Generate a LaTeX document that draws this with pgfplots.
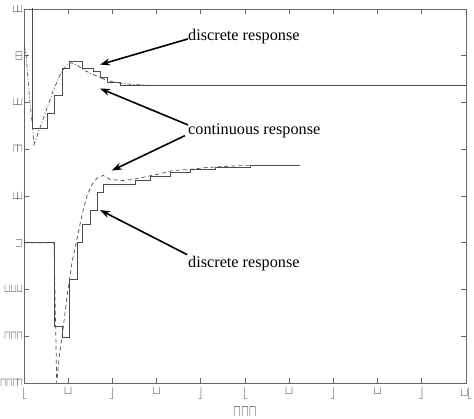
\documentclass[border=0pt]{standalone}
\usepackage{amssymb}
\usepackage{fontspec}
\setmainfont{Liberation Serif}
\usepackage{pgfplots}
\pgfplotsset{compat=1.18}
\usetikzlibrary{arrows.meta}
\newcommand{\tl}[1]{\scalebox{1}[1.35]{$#1$}}

\begin{document}
\begin{tikzpicture}
\begin{axis}[
    scale only axis,
    width=442bp, height=374bp,
    xmin=0, xmax=10, ymin=-3, ymax=5,
    axis line style={black!60, line width=0.9bp},
    tick align=inside, major tick length=5bp,
    tick style={black!60, line width=0.8bp},
    xtick={0,...,10}, ytick={-3,...,5},
    xticklabels={$\lfloor$,$\sqcup$,$\rfloor$,$\sqcup$,$\rfloor$,$\lfloor$,$\sqcup$,$\rfloor$,$\sqcup$,$\rfloor$,$\sqcup\!\lfloor$},
    yticklabels={\tl{\sqcap\mkern-4mu\sqcap\mkern-4mu\sqcap\mkern-4mu\sqcap},\tl{\sqcap\mkern-4mu\sqcap\mkern-4mu\sqcap},\tl{\sqcup\mkern-4mu\sqcup\mkern-4mu\sqcup},\tl{\sqsupset},\tl{\sqcup\mkern-4mu\sqcup},\tl{\sqcap\mkern-4mu\sqcap},\tl{\sqcup\mkern-4mu\sqcup},\tl{\boxminus},\tl{\sqcup\mkern-4mu\sqcup}},
    x tick label style={font=\fontsize{12}{12}\selectfont, black!75, yshift=-1bp},
    y tick label style={font=\fontsize{9.5}{10}\selectfont, black!75, inner sep=1bp},
    xlabel={\scalebox{1}[1.5]{$\sqcap\!\sqcap\!\sqcap$}},
    every axis x label/.style={at={(rel axis cs:0.5,0)}, anchor=north, yshift=-21bp, font=\fontsize{11}{11}\selectfont, black!75},
    every axis plot/.append style={black!70, line width=0.7bp},
]
% upper loop, discrete response
\addplot[const plot] coordinates {
  (0,5.3) (0.18,2.45) (0.52,2.77) (0.68,3.15) (0.86,3.72) (1.02,3.89)
  (1.33,3.72) (1.56,3.66) (1.72,3.53) (1.88,3.43) (2.17,3.365) (10,3.365)
};
% upper loop, continuous response
\addplot[dash pattern=on 4bp off 2bp on 1bp off 2bp] coordinates {
  (0,4.21) (0.045,4.04) (0.09,3.51) (0.136,2.98) (0.18,2.60) (0.226,2.095)
  (0.36,2.455) (0.52,2.88) (0.656,3.24) (0.81,3.58) (0.95,3.79) (1.06,3.85)
  (1.18,3.81) (1.38,3.68) (1.61,3.58) (1.83,3.49) (2.06,3.43) (2.40,3.39)
  (2.85,3.365) (3.53,3.365) (10,3.365)
};
% lower loop, discrete response
\addplot[const plot] coordinates {
  (0,0) (0.68,-1.78) (0.86,-2.03) (1.02,-0.78) (1.20,0) (1.33,0.40)
  (1.49,0.70) (1.65,1.08) (1.79,1.25) (2.51,1.33) (2.85,1.42) (3.30,1.50)
  (3.76,1.57) (4.32,1.61) (5.11,1.65) (6.24,1.65)
};
% lower loop, continuous response
\addplot[dash pattern=on 4bp off 3bp] coordinates {
  (0,0) (0.68,0) (0.74,-3.0) (0.80,-2.41) (0.87,-1.95) (0.98,-1.10)
  (1.09,-0.40) (1.20,0.085) (1.31,0.59) (1.43,1.02) (1.54,1.25) (1.65,1.38)
  (1.79,1.44) (1.95,1.355) (2.24,1.33) (2.47,1.355) (2.69,1.40) (3.01,1.46)
  (3.37,1.545) (3.76,1.57) (4.14,1.61) (4.89,1.65) (6.24,1.65)
};
\begin{scope}[line width=1.6bp, -{Stealth[length=10bp,width=7bp]}]
  \draw (axis cs:3.71,4.36) -- (axis cs:1.72,3.81);
  \draw (axis cs:3.71,2.52) -- (axis cs:1.72,3.30);
  \draw (axis cs:3.64,2.29) -- (axis cs:1.99,1.545);
  \draw (axis cs:3.69,-0.254) -- (axis cs:1.72,0.70);
\end{scope}
\begin{scope}[every node/.style={anchor=west, inner sep=0pt, font=\fontsize{16.3}{18}\selectfont}]
  \node at (axis cs:3.71,4.40) {discrete response};
  \node at (axis cs:3.71,2.39) {continuous response};
  \node at (axis cs:3.71,-0.444) {discrete response};
\end{scope}
\coordinate (BL) at (rel axis cs:0,0);
\coordinate (TR) at (rel axis cs:1,1);
\end{axis}
\pgfresetboundingbox
\path[use as bounding box] ([shift={(-24bp,-36bp)}]BL) rectangle ([shift={(8bp,9bp)}]TR);
\end{tikzpicture}
\end{document}
